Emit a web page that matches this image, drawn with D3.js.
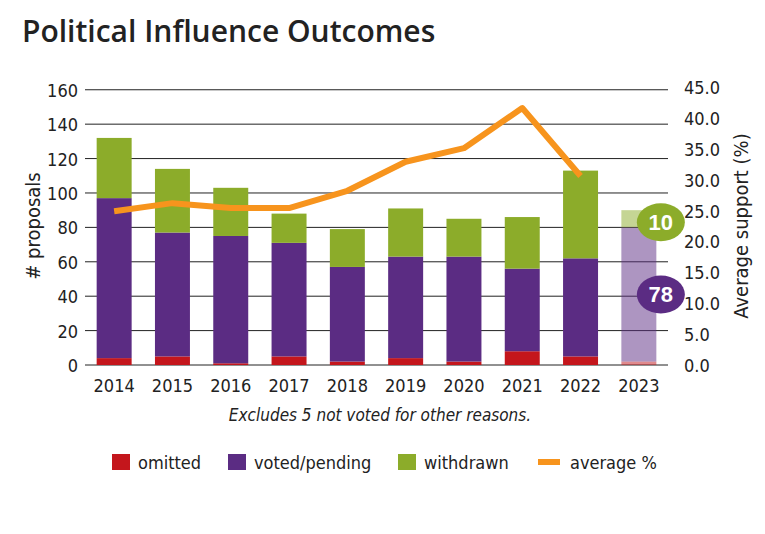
<!DOCTYPE html><html><head><meta charset="utf-8">
<script src="https://cdn.jsdelivr.net/npm/d3@7"></script>
<style>body{margin:0;background:#fff}text{font-family:"Liberation Sans Narrow","DejaVu Sans Condensed","Liberation Sans",Arial,sans-serif}</style>
</head><body><svg id="c" width="765" height="534"></svg>
<script>
const years=["2014","2015","2016","2017","2018","2019","2020","2021","2022","2023"];
const omitted=[4,5,1,5,2,4,2,8,5,2];
const voted=[93,72,74,66,55,59,61,48,57,78];
const withdrawn=[35,37,28,17,22,28,22,30,51,10];
const avgPct=[24.9,26.2,25.4,25.4,28.2,32.9,35.1,41.6,30.6];
const leftTicks=[0,20,40,60,80,100,120,140,160];
const rightTicks=[0,5,10,15,20,25,30,35,40,45];
const colors={omitted:"#c4161c",voted:"#5b2c83",withdrawn:"#8cac2a",avg:"#f7941d"};
const svg=d3.select("#c");
const L=85,R=668,T=87,B=365;
const x=d3.scaleBand().domain(years).range([L,R]).paddingInner(0.4).paddingOuter(0.2);
const y=d3.scaleLinear().domain([0,160]).range([B,B-(B-T)*160/161.6]);
const y2=d3.scaleLinear().domain([0,45]).range([B,T]);
svg.append("text").attr("x",22).attr("y",42).attr("font-size",30).attr("font-weight",600).attr("fill","#222").style("font-family","'Open Sans',sans-serif").text("Political Influence Outcomes");
const g=svg.append("g");
leftTicks.forEach(t=>{if(t>0)g.append("line").attr("x1",L).attr("x2",R).attr("y1",y(t)).attr("y2",y(t)).attr("stroke","#222").attr("stroke-width",1);});
g.append("line").attr("x1",L).attr("x2",R).attr("y1",B).attr("y2",B).attr("stroke","#222");
leftTicks.forEach(t=>g.append("text").attr("x",78).attr("y",y(t)+7).attr("text-anchor","end").attr("font-size",18).attr("fill","#222").text(t));
rightTicks.forEach(t=>g.append("text").attr("x",684).attr("y",y2(t)+7).attr("font-size",18).attr("fill","#222").text(t.toFixed(1)));
years.forEach((yr,i)=>{
  const op=yr==="2023"?0.5:1;
  let base=0;
  [[omitted[i],colors.omitted],[voted[i],colors.voted],[withdrawn[i],colors.withdrawn]].forEach(([v,c])=>{
    g.append("rect").attr("x",x(yr)).attr("width",x.bandwidth()).attr("y",y(base+v)).attr("height",y(base)-y(base+v)).attr("fill",c).attr("opacity",op);
    base+=v;
  });
  g.append("text").attr("x",x(yr)+x.bandwidth()/2).attr("y",392).attr("text-anchor","middle").attr("font-size",18).attr("fill","#222").text(yr);
});
const line=d3.line().x((d,i)=>x(years[i])+x.bandwidth()/2).y(d=>y2(d));
g.append("path").datum(avgPct).attr("d",line).attr("fill","none").attr("stroke",colors.avg).attr("stroke-width",6).attr("stroke-linejoin","round");
const i23=years.length-1;
const cx=x(years[i23])+x.bandwidth()/2+22;
[[omitted[i23]+voted[i23]+withdrawn[i23]/2-2,withdrawn[i23],colors.withdrawn],[omitted[i23]+voted[i23]/2,voted[i23],colors.voted]].forEach(([v,val,c])=>{
  g.append("ellipse").attr("cx",cx).attr("cy",y(v)).attr("rx",24).attr("ry",19).attr("fill",c);
  g.append("text").attr("x",cx).attr("y",y(v)+8).attr("text-anchor","middle").attr("font-size",22).attr("font-weight","bold").attr("fill","#fff").style("font-family","'Liberation Sans',Arial").text(val);
});
svg.append("text").attr("transform",`translate(40,${(T+B)/2}) rotate(-90)`).attr("text-anchor","middle").attr("font-size",20).attr("fill","#222").text("# proposals");
svg.append("text").attr("transform",`translate(748,${(T+B)/2}) rotate(-90)`).attr("text-anchor","middle").attr("font-size",20).attr("fill","#222").text("Average support (%)");
svg.append("text").attr("x",380).attr("y",421).attr("text-anchor","middle").attr("font-size",17).attr("font-style","italic").attr("fill","#222").text("Excludes 5 not voted for other reasons.");
const leg=[["omitted",colors.omitted,112,"rect"],["voted/pending",colors.voted,228,"rect"],["withdrawn",colors.withdrawn,398,"rect"],["average %",colors.avg,538,"line"]];
leg.forEach(([t,c,lx,k])=>{
  if(k==="rect")svg.append("rect").attr("x",lx).attr("y",454).attr("width",18).attr("height",16).attr("fill",c);
  else svg.append("rect").attr("x",lx).attr("y",459).attr("width",22).attr("height",6).attr("fill",c);
  svg.append("text").attr("x",lx+(k==="rect"?26:32)).attr("y",469).attr("font-size",18).attr("fill","#222").text(t);
});
</script></body></html>
